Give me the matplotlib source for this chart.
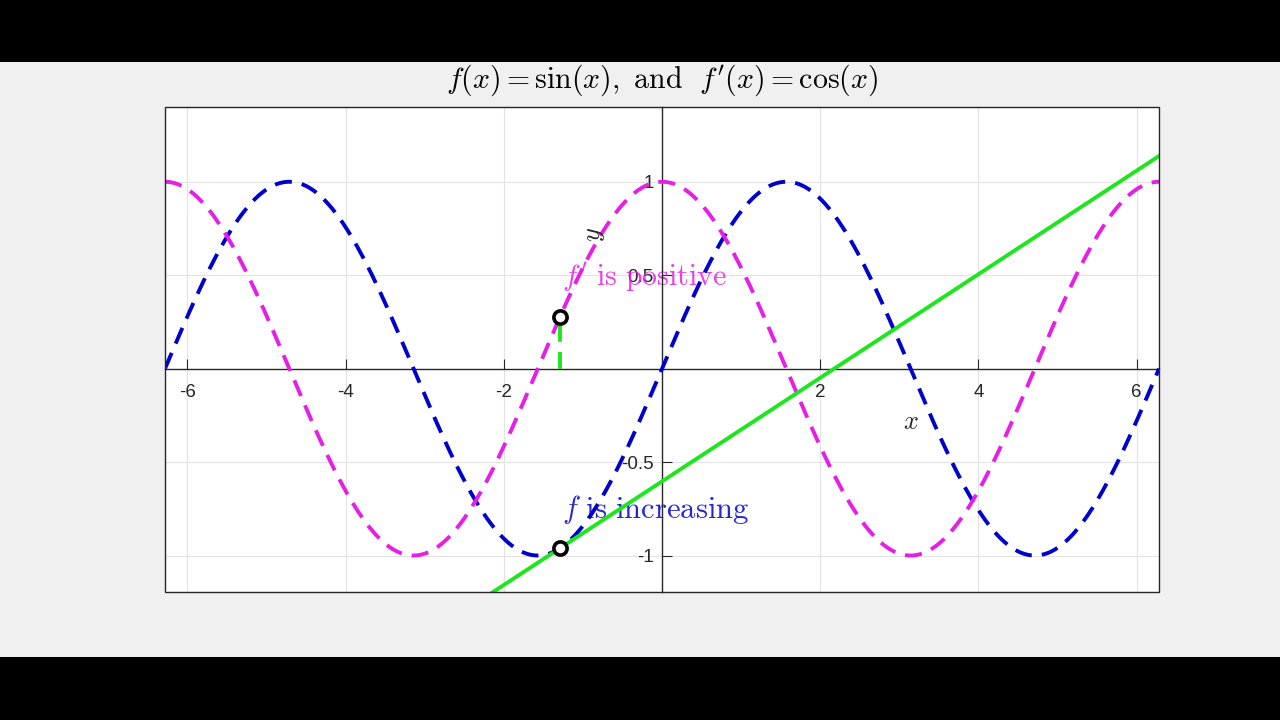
import numpy as np
import matplotlib
matplotlib.use("Agg")
import matplotlib.pyplot as plt
from matplotlib.patches import Rectangle

plt.rcParams["mathtext.fontset"] = "cm"
plt.rcParams["font.family"] = ["Liberation Sans", "DejaVu Sans"]
plt.rcParams["axes.unicode_minus"] = False

# chart content: f(x) = sin(x), f'(x) = cos(x), tangent at x0
x = np.linspace(-2 * np.pi, 2 * np.pi, 600)
f = np.sin(x)
df = np.cos(x)
x0 = -1.29
xticks = [-6, -4, -2, 2, 4, 6]
yticks = [-1, -0.5, 0.5, 1]
ytick_labels = ["-1", "-0.5", "0.5", "1"]

BLUE = "#0000cc"
MAGENTA = "#e61ee6"
GREEN = "#1ee61e"
LW = 2.8
DASH = (4.4, 2.6)

fig = plt.figure(figsize=(12.8, 7.2), dpi=100, facecolor="black")
fig.patches.append(
    Rectangle((0, 0.0875), 1, 0.8264, transform=fig.transFigure,
              facecolor="#f0f0f0", edgecolor="none", zorder=-10)
)

ax = fig.add_axes([0.1289, 0.1778, 0.7766, 0.6736])
ax.set_facecolor("white")

ax.plot(x, f, color=BLUE, lw=LW, dashes=DASH, zorder=3)
ax.plot(x, df, color=MAGENTA, lw=LW, dashes=DASH, zorder=3)

# tangent line at x0
y0 = np.sin(x0)
slope = np.cos(x0)
ax.plot(x, y0 + slope * (x - x0), color=GREEN, lw=LW, zorder=4)
ax.plot([x0, x0], [0, slope], color=GREEN, lw=LW, dashes=DASH, zorder=4)

ax.plot([x0, x0], [y0, slope], "o", ms=9.5, mfc="white", mec="black", mew=2.6,
        zorder=6, ls="none")

ax.text(x0 + 0.03, 0.49, r"$f'\ \mathrm{is\ positive}$", color=MAGENTA,
        fontsize=21.5, va="center", ha="left", alpha=0.85, zorder=2)
ax.text(x0 + 0.03, -0.755, r"$f\ \mathrm{is\ increasing}$", color=BLUE,
        fontsize=22, va="center", ha="left", alpha=0.85, zorder=2)

ax.set_xlim(-2 * np.pi, 2 * np.pi)
ax.set_ylim(-1.195, 1.4)

for s in ["top", "right"]:
    ax.spines[s].set_visible(False)
ax.spines["left"].set_position(("data", 0))
ax.spines["bottom"].set_position(("data", 0))
ax.spines["left"].set_color("#262626")
ax.spines["bottom"].set_color("#262626")
ax.spines["left"].set_linewidth(1.0)
ax.spines["bottom"].set_linewidth(1.0)
ax.add_patch(Rectangle((0, 0), 1, 1, transform=ax.transAxes, fill=False,
                       edgecolor="#262626", lw=1.0, zorder=7, clip_on=False))

ax.set_xticks(xticks)
ax.set_yticks(yticks)
ax.set_yticklabels(ytick_labels)
ax.tick_params(direction="in", length=7, width=0.8, colors="#262626",
               labelsize=13.5)
ax.tick_params(axis="x", pad=11)
ax.tick_params(axis="y", pad=6)
ax.grid(True, color="#e3e3e3", lw=0.8, zorder=0)
ax.set_axisbelow(True)

ax.text(3.14, -0.285, r"$x$", fontsize=19, color="#262626", ha="center",
        va="center")
ax.text(-0.85, 0.72, r"$y$", fontsize=19, color="#262626", ha="center",
        va="center", rotation=90)

fig.text(0.5172, 0.888, r"$f(x) = \sin(x),\ \mathrm{and}\ \ f'(x) = \cos(x)$",
         fontsize=21.5, ha="center", va="center")

fig.savefig("out.png", dpi=100, facecolor=fig.get_facecolor())
